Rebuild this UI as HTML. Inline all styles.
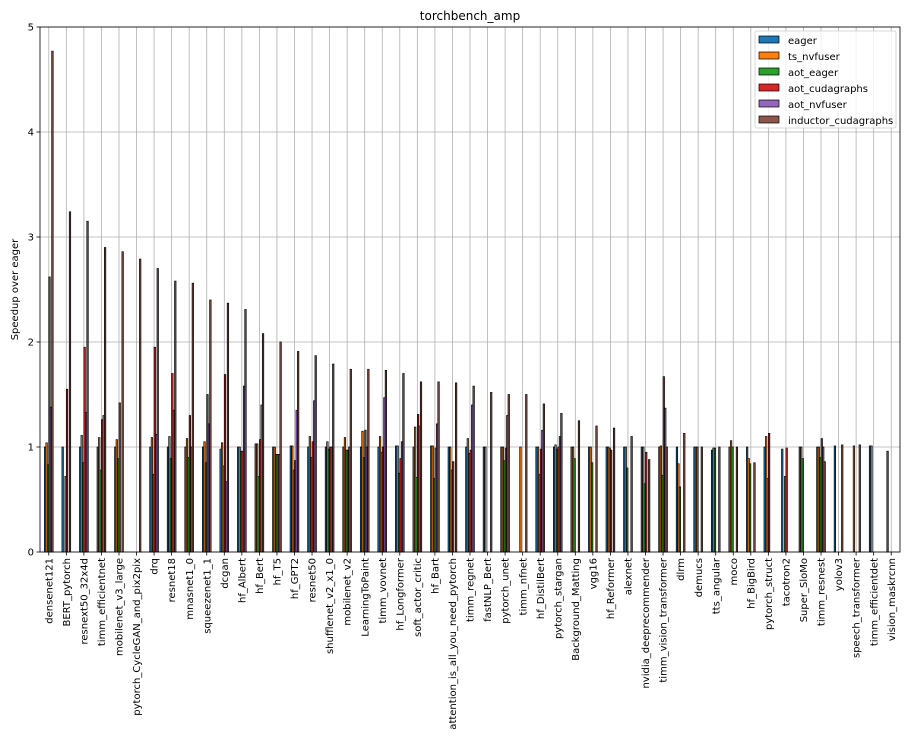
<!DOCTYPE html>
<html><head><meta charset="utf-8"><style>
body{margin:0;background:#fff;font-family:"Liberation Sans","DejaVu Sans",sans-serif}
svg text{font-family:"DejaVu Sans","Liberation Sans",sans-serif}
</style></head><body>
<svg id="chart" width="916" height="750" xmlns="http://www.w3.org/2000/svg"></svg>
<script>
const categories=["densenet121","BERT_pytorch","resnext50_32x4d","timm_efficientnet","mobilenet_v3_large","pytorch_CycleGAN_and_pix2pix","drq","resnet18","mnasnet1_0","squeezenet1_1","dcgan","hf_Albert","hf_Bert","hf_T5","hf_GPT2","resnet50","shufflenet_v2_x1_0","mobilenet_v2","LearningToPaint","timm_vovnet","hf_Longformer","soft_actor_critic","hf_Bart","attention_is_all_you_need_pytorch","timm_regnet","fastNLP_Bert","pytorch_unet","timm_nfnet","hf_DistilBert","pytorch_stargan","Background_Matting","vgg16","hf_Reformer","alexnet","nvidia_deeprecommender","timm_vision_transformer","dlrm","demucs","tts_angular","moco","hf_BigBird","pytorch_struct","tacotron2","Super_SloMo","timm_resnest","yolov3","speech_transformer","timm_efficientdet","vision_maskrcnn"];
const seriesNames=["eager","ts_nvfuser","aot_eager","aot_cudagraphs","aot_nvfuser","inductor_cudagraphs"];
const seriesColors=["#1f77b4","#ff7f0e","#2ca02c","#d62728","#9467bd","#8c564b"];
const eager=[1,1,1,1,1,0,1,1,1,1,0.98,1,1.03,1,1.01,1,1,1,1,1,1.01,1,1.01,1,1,1,1,0,1,1,1,1,1,1,1,1,1,1,0.97,1,1,1,0.98,1,1,1.01,0,1.01,0.96];
const tsNvfuser=[1.04,0,1.11,1.09,1.07,0,1.09,1.1,1.08,1.05,1.04,1,1.03,1,1.01,1.1,1.05,1.09,1.15,1.1,1.01,1.19,1.01,1,1.08,1,1,1,1,1.02,1,1,1,1,1,1.01,0.84,1,0.99,1.06,0.89,1.1,0,1,1,0,1.01,1.01,0];
const aotEager=[0.83,0.72,0.85,0.78,0.89,0,0.74,0.89,0.9,0.85,0.82,0.96,0.72,0.93,0.78,0.9,0.98,0.97,0.9,0.95,0.75,0.71,0.7,0.78,0.94,0,0.87,0,0.74,0.98,0.89,0.85,0.99,0.8,0.65,0.73,0.62,1,0.99,1,0.84,0.7,0.72,0.89,0.9,0,0,0,0];
const aotCudagraphs=[2.62,1.55,1.95,1.26,1.42,0,1.95,1.7,1.3,1.5,1.69,0.96,1.07,0.93,0.87,1.05,1,0.97,1.16,1,0.89,1.31,0.99,0.86,0.97,0,0.99,0,0.98,1,0,0,0.97,0,0.95,1.67,0,0,0,0,0,1.13,0.99,0,1.08,0,0,0,0];
const aotNvfuser=[1.38,0,1.33,1.3,0,0,1.12,1.35,1,1.22,0.67,1.58,1.4,0.93,1.35,1.44,1,1,1,1.47,1.05,1.2,1.22,0,1.4,0,1.3,0,1.16,1.1,0,0,0,0,0,1.37,0,0,0,0,0,0,0,0,1,0,0,0,0];
const inductorCudagraphs=[4.77,3.24,3.15,2.9,2.86,2.79,2.7,2.58,2.56,2.4,2.37,2.31,2.08,2,1.91,1.87,1.79,1.74,1.74,1.73,1.7,1.62,1.62,1.61,1.58,1.52,1.5,1.5,1.41,1.32,1.25,1.2,1.18,1.1,0.88,1,1.13,1,1,1,0.85,0,0,0,0.86,1.02,1.02,0,0];
const yTicks=[0,1,2,3,4,5];
const allSeries=[eager,tsNvfuser,aotEager,aotCudagraphs,aotNvfuser,inductorCudagraphs];

const svg=document.getElementById('chart');
const NS="http://www.w3.org/2000/svg";
const L=40,R=900,T=27,B=552,YMAX=5;
const n=categories.length,step=(R-L)/n;
const xPos=i=>L+(i+0.5)*step;
const yPos=v=>B-(v/YMAX)*(B-T);
function mk(tag,attrs,parent){const e=document.createElementNS(NS,tag);for(const k in attrs)e.setAttribute(k,attrs[k]);(parent||svg).appendChild(e);return e;}

const grid=mk('g',{});


categories.forEach((c,i)=>{mk('line',{x1:xPos(i),x2:xPos(i),y1:T,y2:B,stroke:'#b0b0b0','stroke-width':0.8},grid);});
yTicks.forEach(t=>{mk('line',{x1:L,x2:R,y1:yPos(t),y2:yPos(t),stroke:'#b0b0b0','stroke-width':0.8},grid);});

const bw=step*0.5/6;
const bars=mk('g',{});


allSeries.forEach((arr,s)=>{
  arr.forEach((v,i)=>{
    if(!v)return;
    const x=xPos(i)-step*0.25+s*bw;
    const r=mk('rect',{x:x,y:yPos(v),width:bw,height:B-yPos(v),fill:seriesColors[s],stroke:'#000','stroke-width':0.7},bars);
    
    
  });
});

mk('rect',{x:L,y:T,width:R-L,height:B-T,fill:'none',stroke:'#000','stroke-width':0.8});

const yax=mk('g',{});


yTicks.forEach(t=>{
  mk('line',{x1:L-3.5,x2:L,y1:yPos(t),y2:yPos(t),stroke:'#000','stroke-width':0.8},yax);
  const tx=mk('text',{x:L-6,y:yPos(t)+3.5,'font-size':10,'text-anchor':'end'},yax);tx.textContent=t;
});
const yl=mk('text',{x:18,y:(T+B)/2,'font-size':10,'text-anchor':'middle',transform:`rotate(-90 18 ${(T+B)/2})`});
yl.textContent='Speedup over eager';



const xax=mk('g',{});


categories.forEach((c,i)=>{
  const x=xPos(i);
  mk('line',{x1:x,x2:x,y1:B,y2:B+3.5,stroke:'#000','stroke-width':0.8},xax);
  const tx=mk('text',{x:0,y:0,'font-size':10,'text-anchor':'end',transform:`translate(${x+3.6},${B+6}) rotate(-90)`},xax);
  tx.textContent=c;
});

const title=mk('text',{x:(L+R)/2,y:20,'font-size':12,'text-anchor':'middle'});
title.textContent='torchbench_amp';



const leg=mk('g',{});


mk('rect',{x:755,y:31,width:141,height:97,fill:'#fff','fill-opacity':0.8,stroke:'#ccc','stroke-width':0.8,rx:2},leg);
seriesNames.forEach((nm,s)=>{
  const y=35+s*16;
  const g=mk('g',{},leg);
  
  
  mk('rect',{x:759,y:y+1,width:20,height:7,fill:seriesColors[s],stroke:'#000','stroke-width':0.7},g);
  const tx=mk('text',{x:788,y:y+9,'font-size':10},g);tx.textContent=nm;
});
</script>
</body></html>
